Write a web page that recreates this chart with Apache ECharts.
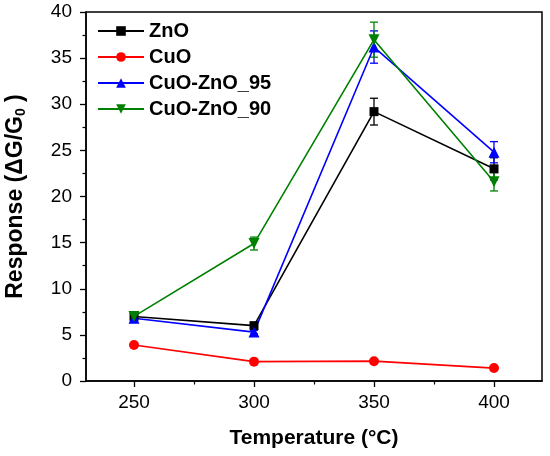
<!DOCTYPE html>
<html>
<head>
<meta charset="utf-8">
<script src="https://cdn.jsdelivr.net/npm/echarts@6/dist/echarts.min.js"></script>
<style>
  html, body { margin: 0; padding: 0; background: #fff; }
  #chart { width: 550px; height: 456px; }
</style>
</head>
<body>
<div id="chart"></div>
<script>
const temps = [250, 300, 350, 400];
const minorTemps = [275, 325, 375];

const zno = [7.0, 6.0, 29.2, 23.0];
const znoErr = [0.2, 0.2, 1.45, 1.2];

const cuo = [3.9, 2.1, 2.15, 1.4];
const cuoErr = [0, 0, 0, 0];

const cz95 = [6.8, 5.3, 36.2, 24.8];
const cz95Err = [0.2, 0.2, 1.75, 1.15];

const cz90 = [7.0, 14.9, 37.0, 21.6];
const cz90Err = [0.2, 0.7, 1.9, 1.0];

const names = ['ZnO', 'CuO', 'CuO-ZnO_95', 'CuO-ZnO_90'];
const colors = ['#000000', '#ff0000', '#0000ff', '#008000'];
const symbols = ['rect', 'circle', 'triangle', 'path://M0,0 L10,0 L5,9 Z'];
const symbolSizes = [9, 10, 11, 11];
const values = [zno, cuo, cz95, cz90];
const errors = [znoErr, cuoErr, cz95Err, cz90Err];

const font = 'Liberation Sans, Arial, sans-serif';

const chart = echarts.init(document.getElementById('chart'));

function pairs(vals) {
    return temps.map((t, i) => [t, vals[i]]);
}

function errData(vals, errs) {
    return temps.map((t, i) => [t, vals[i] - errs[i], vals[i] + errs[i]])
        .filter((d, i) => errs[i] > 0);
}

function errRender(color) {
    return function (params, api) {
        const lo = api.coord([api.value(0), api.value(1)]);
        const hi = api.coord([api.value(0), api.value(2)]);
        const w = 4;
        const style = { stroke: color, lineWidth: 1.3 };
        return {
            type: 'group',
            children: [
                { type: 'line', shape: { x1: lo[0], y1: lo[1], x2: hi[0], y2: hi[1] }, style: style },
                { type: 'line', shape: { x1: lo[0] - w, y1: lo[1], x2: lo[0] + w, y2: lo[1] }, style: style },
                { type: 'line', shape: { x1: hi[0] - w, y1: hi[1], x2: hi[0] + w, y2: hi[1] }, style: style }
            ]
        };
    };
}

const series = [];
names.forEach((n, k) => {
    series.push({
        name: n,
        type: 'line',
        data: pairs(values[k]),
        symbol: symbols[k],
        symbolSize: symbolSizes[k],
        color: colors[k],
        lineStyle: { width: 1.6, color: colors[k] },
        itemStyle: { color: colors[k] },
        z: 3
    });
    series.push({
        name: n + ' err',
        type: 'custom',
        data: errData(values[k], errors[k]),
        renderItem: errRender(colors[k]),
        encode: { x: 0, y: [1, 2] },
        silent: true,
        z: 2
    });
});

const option = {
    animation: false,
    textStyle: { fontFamily: font },
    grid: {
        left: 86, right: 8, top: 12, bottom: 75,
        show: true, borderColor: '#000', borderWidth: 1.5,
        containLabel: false,
        outerBoundsMode: 'none'
    },
    legend: {
        data: names,
        orient: 'vertical',
        left: 97,
        top: 21,
        padding: 0,
        itemWidth: 46,
        itemHeight: 12,
        itemGap: 6,
        textStyle: { fontSize: 20, fontWeight: 'bold', color: '#000', fontFamily: font }
    },
    xAxis: [{
        type: 'value',
        min: 230,
        max: 420,
        name: 'Temperature (°C)',
        nameLocation: 'middle',
        nameGap: 47,
        nameTextStyle: { fontSize: 21, fontWeight: 'bold', color: '#000' },
        axisLine: { show: true, lineStyle: { color: '#000', width: 1.5 } },
        axisTick: { show: true, length: 6, lineStyle: { color: '#000', width: 1.3 }, customValues: temps },
        axisLabel: { fontSize: 19, color: '#000', margin: 12, customValues: temps },
        splitLine: { show: false }
    }, {
        type: 'value',
        min: 230,
        max: 420,
        position: 'bottom',
        axisLine: { show: false },
        axisTick: { show: true, length: 3.5, lineStyle: { color: '#000', width: 1.2 }, customValues: minorTemps },
        axisLabel: { show: false },
        splitLine: { show: false }
    }],
    yAxis: {
        type: 'value',
        min: 0,
        max: 40,
        interval: 5,
        name: 'Response (ΔG/G{sub|0} )',
        nameLocation: 'middle',
        nameGap: 58,
        nameTextStyle: {
            fontSize: 23, fontWeight: 'bold', color: '#000',
            rich: {
                sub: { fontSize: 14, fontWeight: 'bold', color: '#000', verticalAlign: 'bottom', padding: [10, 0, 0, 0] }
            }
        },
        axisLine: { show: true, lineStyle: { color: '#000', width: 1.5 } },
        axisTick: { show: true, length: 6, lineStyle: { color: '#000', width: 1.3 } },
        minorTick: { show: true, splitNumber: 2, length: 3.5, lineStyle: { color: '#000', width: 1.2 } },
        axisLabel: { fontSize: 19, color: '#000', margin: 14 },
        splitLine: { show: false }
    },
    series: series
};

chart.setOption(option);
</script>
</body>
</html>
